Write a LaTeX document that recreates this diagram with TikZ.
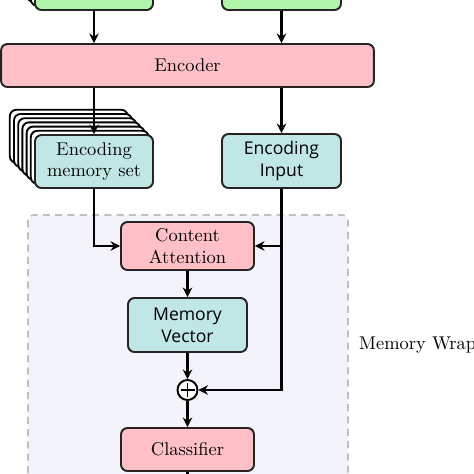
\documentclass[tikz,border=0pt]{standalone}
\usepackage{fontspec}
\newfontfamily\boxsans{Open Sans}
\usetikzlibrary{arrows.meta,calc}
\definecolor{pinkfill}{RGB}{255,192,200}
\definecolor{bluefill}{RGB}{192,230,230}
\definecolor{greenfill}{RGB}{176,245,170}
\definecolor{edgecol}{RGB}{40,35,35}
\definecolor{regionfill}{RGB}{243,243,252}
\definecolor{regionedge}{RGB}{190,190,195}
\tikzset{
  blk/.style={draw=edgecol, line width=1.1pt, rounded corners=0.13cm, align=center, inner sep=2pt,
    font=\fontsize{10.5}{12.5}\selectfont},
  pinkbox/.style={blk, fill=pinkfill},
  bluebox/.style={blk, fill=bluefill, font=\boxsans\fontsize{10}{12.5}\selectfont},
  greenbox/.style={blk, fill=greenfill},
  arr/.style={line width=1.15pt, -{Stealth[length=5.4pt,width=5.4pt]}},
  ln/.style={line width=1.15pt},
  stackcopy/.style={draw=black, line width=1.05pt, rounded corners=0.13cm, fill=white},
}
\begin{document}
\begin{tikzpicture}[x=0.02cm,y=-0.02cm]
\path[use as bounding box] (0,0) rectangle (474,474);
\clip (0,0) rectangle (474,474);
\fill[white] (0,0) rectangle (474,474);
% memory region
\draw[regionedge, fill=regionfill, dashed, dash pattern=on 4pt off 3pt, line width=0.9pt, rounded corners=0.1cm]
  (28,215) rectangle (348,490);
\node[anchor=west, font=\fontsize{10.5}{12.5}\selectfont] (wraplabel) at (353,345) {Memory Wrap};
% top green boxes (stack behind left one)
\foreach \k in {6,5,...,1}{
  \draw[stackcopy] ({35-4.2*\k},{-44-4.2*\k}) rectangle ({153-4.2*\k},{10-4.2*\k});
}
\node[greenbox, minimum width=2.36cm, minimum height=1.08cm] (greenL) at (94,-17) {};
\node[greenbox, minimum width=2.38cm, minimum height=1.08cm] (greenR) at (281.5,-17) {};
% encoder
\node[pinkbox, minimum width=7.46cm, minimum height=0.86cm] (enc) at (187.5,65.5) {Encoder};
% memory set stack
\foreach \k in {6,5,...,1}{
  \draw[stackcopy] ({35-4.2*\k},{135-4.2*\k}) rectangle ({153-4.2*\k},{188-4.2*\k});
}
\node[bluebox, font=\fontsize{10.5}{12.5}\selectfont, minimum width=2.36cm, minimum height=1.06cm] (mem) at (94,161.5) {Encoding\\memory set};
\node[bluebox, minimum width=2.38cm, minimum height=1.08cm] (inp) at (281.5,161) {Encoding\\Input};
% inner nodes
\node[pinkbox, minimum width=2.66cm, minimum height=0.96cm] (ca) at (187.5,246) {Content\\Attention};
\node[bluebox, minimum width=2.38cm, minimum height=1.08cm] (mv) at (187.5,325) {Memory\\Vector};
\node[draw=black, line width=1.1pt, circle, minimum size=0.4cm, inner sep=0pt, fill=white] (plus) at (187.5,390) {};
\draw[line width=0.8pt] ($(plus.center)+(-7,0)$) -- ($(plus.center)+(7,0)$)
  ($(plus.center)+(0,-7)$) -- ($(plus.center)+(0,7)$);
\node[pinkbox, minimum width=2.66cm, minimum height=0.86cm] (cls) at (187.5,449.5) {Classifier};
\coordinate (out) at (187.5,490);
% connectors
\draw[arr] (greenL.south) -- (greenL.south |- enc.north);
\draw[arr] (greenR.south) -- (greenR.south |- enc.north);
\draw[arr] (mem.north |- enc.south) -- (mem.north);
\draw[arr] (inp.north |- enc.south) -- (inp.north);
\draw[arr] (mem.south) |- (ca.west);
\draw[arr] (inp.south) |- (plus.east);
\draw[arr] (inp.south |- ca.east) -- (ca.east);
\draw[arr] (ca.south) -- (mv.north);
\draw[arr] (mv.south) -- (plus.north);
\draw[arr] (plus.south) -- (cls.north);
\draw[ln] (cls.south) -- (out);
\end{tikzpicture}
\end{document}
